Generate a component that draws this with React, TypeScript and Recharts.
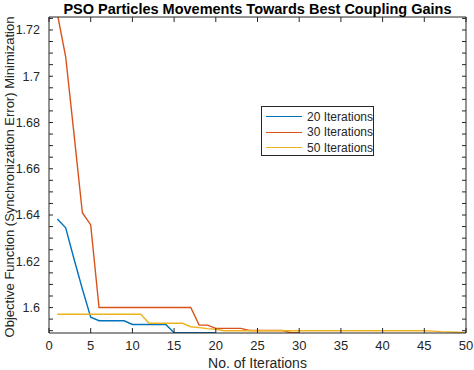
import { LineChart, Line, XAxis, YAxis } from "recharts";

// PSO particles — objective value per iteration for 3 runs

const iterations = [
  1, 2, 3, 4, 5, 6, 7, 8, 9, 10, 11, 12, 13, 14, 15, 16, 17, 18, 19, 20, 21, 22, 23, 24, 25,
  26, 27, 28, 29, 30, 31, 32, 33, 34, 35, 36, 37, 38, 39, 40, 41, 42, 43, 44, 45, 46, 47, 48, 49, 50,
];

const run20 = [
  1.6383, 1.6345, 1.621, 1.608, 1.5958, 1.5943, 1.5943, 1.5943, 1.5943, 1.5927,
  1.5927, 1.5927, 1.5927, 1.5927, 1.5891, 1.5891, 1.5891, 1.5891, 1.5891, 1.5891,
];

const run30 = [
  1.727, 1.7084, 1.675, 1.641, 1.6357, 1.6, 1.6, 1.6, 1.6, 1.6,
  1.6, 1.6, 1.6, 1.6, 1.6, 1.6, 1.6, 1.5924, 1.5924, 1.591,
  1.591, 1.591, 1.591, 1.5901, 1.5901, 1.5901, 1.5901, 1.5901, 1.5891, 1.5891,
];

const run50 = [
  1.5971, 1.5971, 1.5971, 1.5971, 1.5971, 1.5971, 1.5971, 1.5971, 1.5971, 1.5971,
  1.5971, 1.5932, 1.5932, 1.5932, 1.5932, 1.5932, 1.5917, 1.5913, 1.5909, 1.5906,
  1.59, 1.59, 1.59, 1.59, 1.59, 1.59, 1.59, 1.59, 1.59, 1.59,
  1.59, 1.59, 1.59, 1.59, 1.59, 1.59, 1.59, 1.59, 1.59, 1.59,
  1.59, 1.59, 1.59, 1.59, 1.59, 1.5898, 1.5896, 1.5895, 1.5893, 1.5891,
];

const xTicks = [0, 5, 10, 15, 20, 25, 30, 35, 40, 45, 50];
const yTicks = [
  1.59, 1.595, 1.6, 1.605, 1.61, 1.615, 1.62, 1.625, 1.63, 1.635, 1.64, 1.645, 1.65, 1.655,
  1.66, 1.665, 1.67, 1.675, 1.68, 1.685, 1.69, 1.695, 1.7, 1.705, 1.71, 1.715, 1.72, 1.725,
];
const yLabels = [1.6, 1.62, 1.64, 1.66, 1.68, 1.7, 1.72];

const series = [
  { key: "run20", name: "20 Iterations", color: "#0072BD", values: run20 },
  { key: "run30", name: "30 Iterations", color: "#D95319", values: run30 },
  { key: "run50", name: "50 Iterations", color: "#EDB120", values: run50 },
];

const data = iterations.map((it, i) => ({
  it,
  run20: run20[i],
  run30: run30[i],
  run50: run50[i],
}));

const FONT = "'Liberation Sans', Arial, sans-serif";
const INK = "#262626";

// only the major ticks get a label
function YTick({ x, y, payload }: any) {
  const v = Number(payload?.value);
  const hit = yLabels.find((l) => Math.abs(l - v) < 1e-6);
  if (hit === undefined) return null;
  return (
    <text x={x} y={y} dy="0.355em" textAnchor="end" fontSize={12.5} fill={INK} fontFamily={FONT}>
      {String(hit)}
    </text>
  );
}

export default function App() {
  return (
    <div style={wrap}>
      <LineChart
        width={474}
        height={370}
        data={data}
        margin={{ top: 0, right: 0, left: 0, bottom: 0 }}
      >
        <XAxis
          dataKey="it"
          type="number"
          domain={[0, 50]}
          ticks={xTicks}
          interval={0}
          height={37}
          tickSize={-5}
          tickMargin={13}
          stroke={INK}
          tick={{ fontSize: 13, fill: INK, fontFamily: FONT }}
        />
        <XAxis
          xAxisId="top"
          orientation="top"
          dataKey="it"
          type="number"
          domain={[0, 50]}
          ticks={xTicks}
          interval={0}
          height={17}
          tickSize={-5}
          stroke={INK}
          tickFormatter={() => ""}
        />
        <YAxis
          type="number"
          domain={[1.589, 1.7256]}
          allowDataOverflow
          ticks={yTicks}
          interval={0}
          width={49}
          tickSize={-4}
          tickMargin={13}
          stroke={INK}
          tick={<YTick />}
        />
        <YAxis
          yAxisId="right"
          orientation="right"
          type="number"
          domain={[1.589, 1.7256]}
          allowDataOverflow
          ticks={yTicks}
          interval={0}
          width={8}
          tickSize={-4}
          stroke={INK}
          tickFormatter={() => ""}
        />
        {series.map((s) => (
          <Line
            key={s.key}
            dataKey={s.key}
            name={s.name}
            stroke={s.color}
            strokeWidth={1.4}
            dot={false}
            activeDot={false}
            type="linear"
            isAnimationActive={false}
          />
        ))}
      </LineChart>

      <div style={titleStyle}>PSO Particles Movements Towards Best Coupling Gains</div>
      <div style={xLabelStyle}>No. of Iterations</div>
      <div style={yLabelStyle}>Objective Function (Synchronization Error) Minimization</div>

      <div style={legendStyle}>
        {series.map((s) => (
          <div key={s.key} style={legendRow}>
            <span style={{ width: 37, height: 0, borderTop: `1.4px solid ${s.color}`, marginRight: 5 }} />
            <span>{s.name}</span>
          </div>
        ))}
      </div>
    </div>
  );
}

const wrap: React.CSSProperties = {
  position: "absolute",
  left: 0,
  top: 0,
  width: 474,
  height: 370,
  background: "#fff",
  fontFamily: FONT,
  color: INK,
};

const titleStyle: React.CSSProperties = {
  position: "absolute",
  left: 49,
  width: 417,
  top: 1,
  textAlign: "center",
  fontSize: 14.5,
  fontWeight: 700,
  lineHeight: "17px",
  color: "#000",
};

const xLabelStyle: React.CSSProperties = {
  position: "absolute",
  left: 49,
  width: 417,
  top: 355,
  textAlign: "center",
  fontSize: 14,
  lineHeight: "16px",
};

const yLabelStyle: React.CSSProperties = {
  position: "absolute",
  left: 10,
  top: 177,
  width: 400,
  marginLeft: -200,
  textAlign: "center",
  fontSize: 13,
  lineHeight: "16px",
  marginTop: -8,
  transform: "rotate(-90deg)",
  whiteSpace: "nowrap",
};

const legendStyle: React.CSSProperties = {
  position: "absolute",
  left: 261,
  top: 106,
  width: 113,
  height: 50,
  border: "1px solid #262626",
  boxSizing: "border-box",
  padding: "2px 0 0 4px",
  fontSize: 12,
  background: "#fff",
};

const legendRow: React.CSSProperties = {
  display: "flex",
  alignItems: "center",
  height: 15.5,
  whiteSpace: "nowrap",
};
